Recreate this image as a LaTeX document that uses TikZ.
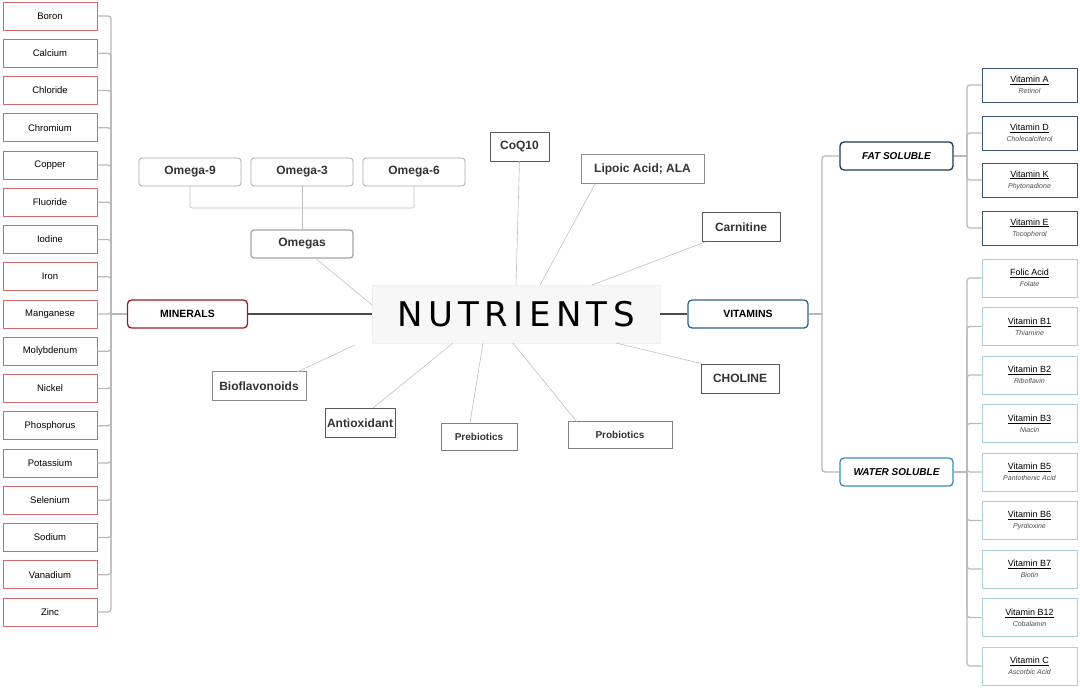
\documentclass[tikz,border=0pt]{standalone}
\usepackage{fontspec}
\setmainfont{Liberation Sans}
\newfontfamily\titlefont[LetterSpace=16]{DejaVu Sans}
\definecolor{minred}{HTML}{D06A6A}
\definecolor{mindark}{HTML}{9A1C22}
\definecolor{vitblue}{HTML}{2A6688}
\definecolor{fatnavy}{HTML}{1C3A52}
\definecolor{fatbox}{HTML}{3A5670}
\definecolor{watblue}{HTML}{3A8CB8}
\definecolor{watbox}{HTML}{A8CFE2}
\begin{document}
\begin{tikzpicture}[x=1pt,y=-1pt,
  mineral/.style={draw=minred, fill=white, line width=0.8pt, minimum width=94pt, minimum height=28pt, font=\fontsize{9.5}{11}\selectfont, inner sep=0pt},
  vit/.style={draw=#1, fill=white, line width=0.8pt, minimum width=95pt, minimum height=34pt, align=center, inner sep=0pt},
  cat/.style={draw=#1, rounded corners=4pt, line width=1.3pt, fill=white, minimum width=120pt, minimum height=28pt, font=\bfseries\fontsize{10.5}{12}\selectfont, inner sep=0pt},
  sub/.style={draw=#1, rounded corners=4pt, line width=1.3pt, fill=white, minimum width=113pt, minimum height=28pt, font=\bfseries\itshape\fontsize{10}{12}\selectfont, inner sep=0pt},
  omg/.style={draw=gray!70, rounded corners=3pt, line width=0.8pt, minimum width=102pt, minimum height=28pt, font=\bfseries\fontsize{12}{14}\selectfont, text=black!80, inner sep=0pt},
  sat/.style={draw=black!65, line width=0.8pt, minimum height=29pt, font=\bfseries\fontsize{12}{14}\selectfont, text=black!80, inner sep=0pt},
  satl/.style={draw=black!50, line width=0.6pt, minimum height=27pt, font=\bfseries\fontsize{10}{12}\selectfont, text=black!80, inner sep=0pt},
  br/.style={draw=gray!55, line width=1.3pt, rounded corners=3pt},
  spoke/.style={draw=gray!50, line width=0.6pt},
  main/.style={draw=black!70, line width=1.4pt}]
\useasboundingbox (0,0) rectangle (1080,688);
% minerals
\foreach \n/\t [count=\i from 0] in {m1/Boron,m2/Calcium,m3/Chloride,m4/Chromium,m5/Copper,m6/Fluoride,m7/Iodine,m8/Iron,m9/Manganese,m10/Molybdenum,m11/Nickel,m12/Phosphorus,m13/Potassium,m14/Selenium,m15/Sodium,m16/Vanadium,m17/Zinc}
  \node[mineral] (\n) at (50,16+37.25*\i) {\t};
\coordinate (mb) at (111,314);
\foreach \n in {m1,m2,m3,m4,m5,m6,m7,m8,m9,m10,m11,m12,m13,m14,m15,m16,m17}
  \draw[br] (\n.east) -| (mb);
\node[cat=mindark] (min) at (187.5,314) {MINERALS};
\draw[br] (mb) -- (min.west);
% center
\node[fill=black!3, draw=black!6, minimum width=288pt, minimum height=58pt, inner sep=0pt, font=\titlefont\fontsize{34}{38}\selectfont] (nut) at (516,314) {NUTRIENTS};
\draw[main] (min.east) -- (nut.west);
\node[cat=vitblue] (vit) at (748,314) {VITAMINS};
\draw[main] (nut.east) -- (vit.west);
% subcats
\node[sub=fatnavy] (fat) at (896.5,156) {FAT SOLUBLE};
\node[sub=watblue] (wat) at (896.5,472) {WATER SOLUBLE};
\coordinate (vb) at (822,314);
\draw[br] (vit.east) -- (vb);
\draw[br] (fat.west) -| (vb);
\draw[br] (wat.west) -| (vb);
\newcommand\vlab[2]{{\fontsize{9}{10}\selectfont\underline{#1}}\\[-1pt]{\fontsize{7}{9}\selectfont\itshape\color{black!70}#2}}
\coordinate (fb) at (967,156);
\foreach \n/\a/\b/\y in {va/Vitamin A/Retinol/85,vd/Vitamin D/Cholecalciferol/133,vk/Vitamin K/Phytonadione/180,ve/Vitamin E/Tocopherol/228}{
  \node[vit=fatbox] (\n) at (1029.5,\y) {\vlab{\a}{\b}};
  \draw[br] (\n.west) -| (fb);}
\draw[br] (fat.east) -- (fb);
\coordinate (wb) at (967,472);
\foreach \n/\a/\b [count=\i from 0] in {w1/Folic Acid/Folate,w2/Vitamin B1/Thiamine,w3/Vitamin B2/Riboflavin,w4/Vitamin B3/Niacin,w5/Vitamin B5/Pantothenic Acid,w6/Vitamin B6/Pyrdioxine,w7/Vitamin B7/Biotin,w8/Vitamin B12/Cobalamin,w9/Vitamin C/Ascorbic Acid}{
  \node[vit=watbox, minimum height=38pt] (\n) at (1029.5,278+48.5*\i) {\vlab{\a}{\b}};
  \draw[br] (\n.west) -| (wb);}
\draw[br] (wat.east) -- (wb);
% omegas
\node[omg] (o9) at (190,172) {Omega-9};
\node[omg] (o3) at (302,172) {Omega-3};
\node[omg] (o6) at (414,172) {Omega-6};
\node[omg, line width=1.3pt] (om) at (302,244) {Omegas};
\coordinate (ob) at (302,208);
\draw[spoke, rounded corners=2pt] (o9.south) |- (ob) -| (o6.south);
\draw[spoke] (o3.south) -- (om.north);
\draw[spoke] (om.south) ++(14,0) -- (372,305);
% satellites
\node[sat, minimum width=59pt] (coq) at (519.5,146.5) {CoQ10};
\node[sat, minimum width=123pt, draw=black!45] (lip) at (642.5,169) {Lipoic Acid; ALA};
\node[sat, minimum width=78pt] (car) at (741,227) {Carnitine};
\node[sat, minimum width=78pt] (cho) at (740,378.5) {CHOLINE};
\node[satl, minimum width=104pt] (pro) at (620,435) {Probiotics};
\node[satl, minimum width=76pt, minimum height=27pt] (pre) at (479,436.5) {Prebiotics};
\node[sat, minimum width=70pt] (ant) at (360,423) {Antioxidant};
\node[sat, minimum width=94pt, draw=black!45] (bio) at (259,386) {Bioflavonoids};
\draw[spoke] (coq.south) -- (516,285);
\draw[spoke] (595,184) -- (540,285);
\draw[spoke] (705,242) -- (592,285);
\draw[spoke] (cho.north west) ++(1,0) -- (616,343);
\draw[spoke] (577,422) -- (513,343);
\draw[spoke] (470,423) -- (483,343);
\draw[spoke] (373,408) -- (453,343);
\draw[spoke] (297,372) -- (355,345);
\end{tikzpicture}
\end{document}
